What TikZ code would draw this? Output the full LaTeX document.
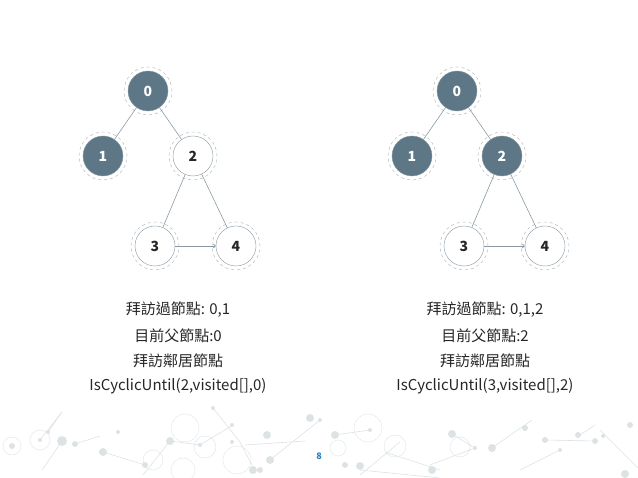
\documentclass[tikz,border=0pt]{standalone}
\usepackage{fontspec}
\setmainfont{Noto Sans CJK TC}
\usetikzlibrary{arrows.meta}
\definecolor{fillc}{HTML}{5E7787}
\definecolor{edgec}{HTML}{8A9AA3}
\definecolor{deco}{HTML}{DDE2E5}
\definecolor{numc}{HTML}{1F7FC0}
\begin{document}
\begin{tikzpicture}[x=1pt,y=-1pt,
  vis/.style={circle,draw=edgec,fill=fillc,text=white,minimum size=40pt,inner sep=0pt,font=\bfseries\fontsize{14}{15}\selectfont},
  unv/.style={circle,draw=edgec,fill=white,text=black!85,minimum size=40pt,inner sep=0pt,font=\bfseries\fontsize{14}{15}\selectfont},
  ring/.style={circle,draw=edgec!80,dashed,minimum size=48pt,inner sep=0pt},
  edge/.style={draw=edgec,line width=0.6pt},
  txt/.style={font=\fontsize{15}{17}\selectfont,text=black!85},
  dd/.style={fill=deco,draw=none},
  dl/.style={draw=deco,line width=0.6pt}]
\useasboundingbox (0,0) rectangle (638,478);
% background decoration
\foreach \a/\b/\c/\d in {40/440/62/412,62/412/48/432,62/441/42/470,100/436/75/444,103/452/145/465,170/441/143/475,200/445/170/441,200/445/233/425,213/408/240/442,240/442/252/465,245/445/305/441,320/420/270/460,335/435/370/430,385/452/440/470,400/442/360/475,475/448/430/465,360/470/440/478,492/448/532/420,545/440/595/441,452/434/475/448,520/470/560/450,580/435/595/425,600/430/640/470}
  \draw[dl] (\a,\b) -- (\c,\d);
\foreach \a/\b/\r in {12/446/3,40/440/2,62/441/5,48/432/2,75/444/3,103/452/4,118/432/2,145/465/3,170/441/4,200/445/2,213/408/2,232/425/2,232/442/2,253/470/4,267/435/4,310/418/4,320/420/2,270/460/4,260/470/3,335/435/4,360/466/4,345/465/3,370/430/2,452/434/4,432/470/4,475/448/2,492/448/4,525/428/3,545/440/3,560/450/2,595/441/3,578/435/3,603/436/2,630/425/3,625/474/4}
  \fill[dd] (\a,\b) circle (\r);
\foreach \a/\b/\r in {12/446/9,40/440/10,153/460/10,185/428/14,183/470/12,205/447/11,237/460/14,338/448/8,368/428/14,395/446/11,460/447/10}
  \draw[deco] (\a,\b) circle (\r);
% left graph
\foreach \n/\x/\y in {0/148/91,1/103/156,2/193/156,3/155/246,4/236/246} \node[ring] (Lr\n) at (\x,\y) {};
\node[vis] (L0) at (148,91) {0};
\node[vis] (L1) at (103,156) {1};
\node[unv] (L2) at (193,156) {2};
\node[unv] (L3) at (155,246) {3};
\node[unv] (L4) at (236,246) {4};
\draw[edge] (L0) -- (L1);
\draw[edge] (L0) -- (L2);
\draw[edge] (L2) -- (L3);
\draw[edge] (L2) -- (L4);
\draw[edge,-{Straight Barb[length=2pt]}] (L3) -- (L4);
% right graph
\foreach \n/\x/\y in {0/457/91,1/412/156,2/502/156,3/464/246,4/545/246} \node[ring] (Rr\n) at (\x,\y) {};
\node[vis] (R0) at (457,91) {0};
\node[vis] (R1) at (412,156) {1};
\node[vis] (R2) at (502,156) {2};
\node[unv] (R3) at (464,246) {3};
\node[unv] (R4) at (545,246) {4};
\draw[edge] (R0) -- (R1);
\draw[edge] (R0) -- (R2);
\draw[edge] (R2) -- (R3);
\draw[edge] (R2) -- (R4);
\draw[edge,-{Straight Barb[length=2pt]}] (R3) -- (R4);
% texts
\node[txt] (lt1) at (178,310) {拜訪過節點: 0,1};
\node[txt] (lt2) at (178,336) {目前父節點:0};
\node[txt] (lt3) at (178,361) {拜訪鄰居節點};
\node[txt] (lt4) at (178,386) {IsCyclicUntil(2,visited[],0)};
\node[txt] (rt1) at (485,310) {拜訪過節點: 0,1,2};
\node[txt] (rt2) at (485,336) {目前父節點:2};
\node[txt] (rt3) at (485,361) {拜訪鄰居節點};
\node[txt] (rt4) at (485,386) {IsCyclicUntil(3,visited[],2)};
\node[text=numc,font=\bfseries\fontsize{9}{10}\selectfont] (pg) at (319,456) {8};
\end{tikzpicture}
\end{document}
